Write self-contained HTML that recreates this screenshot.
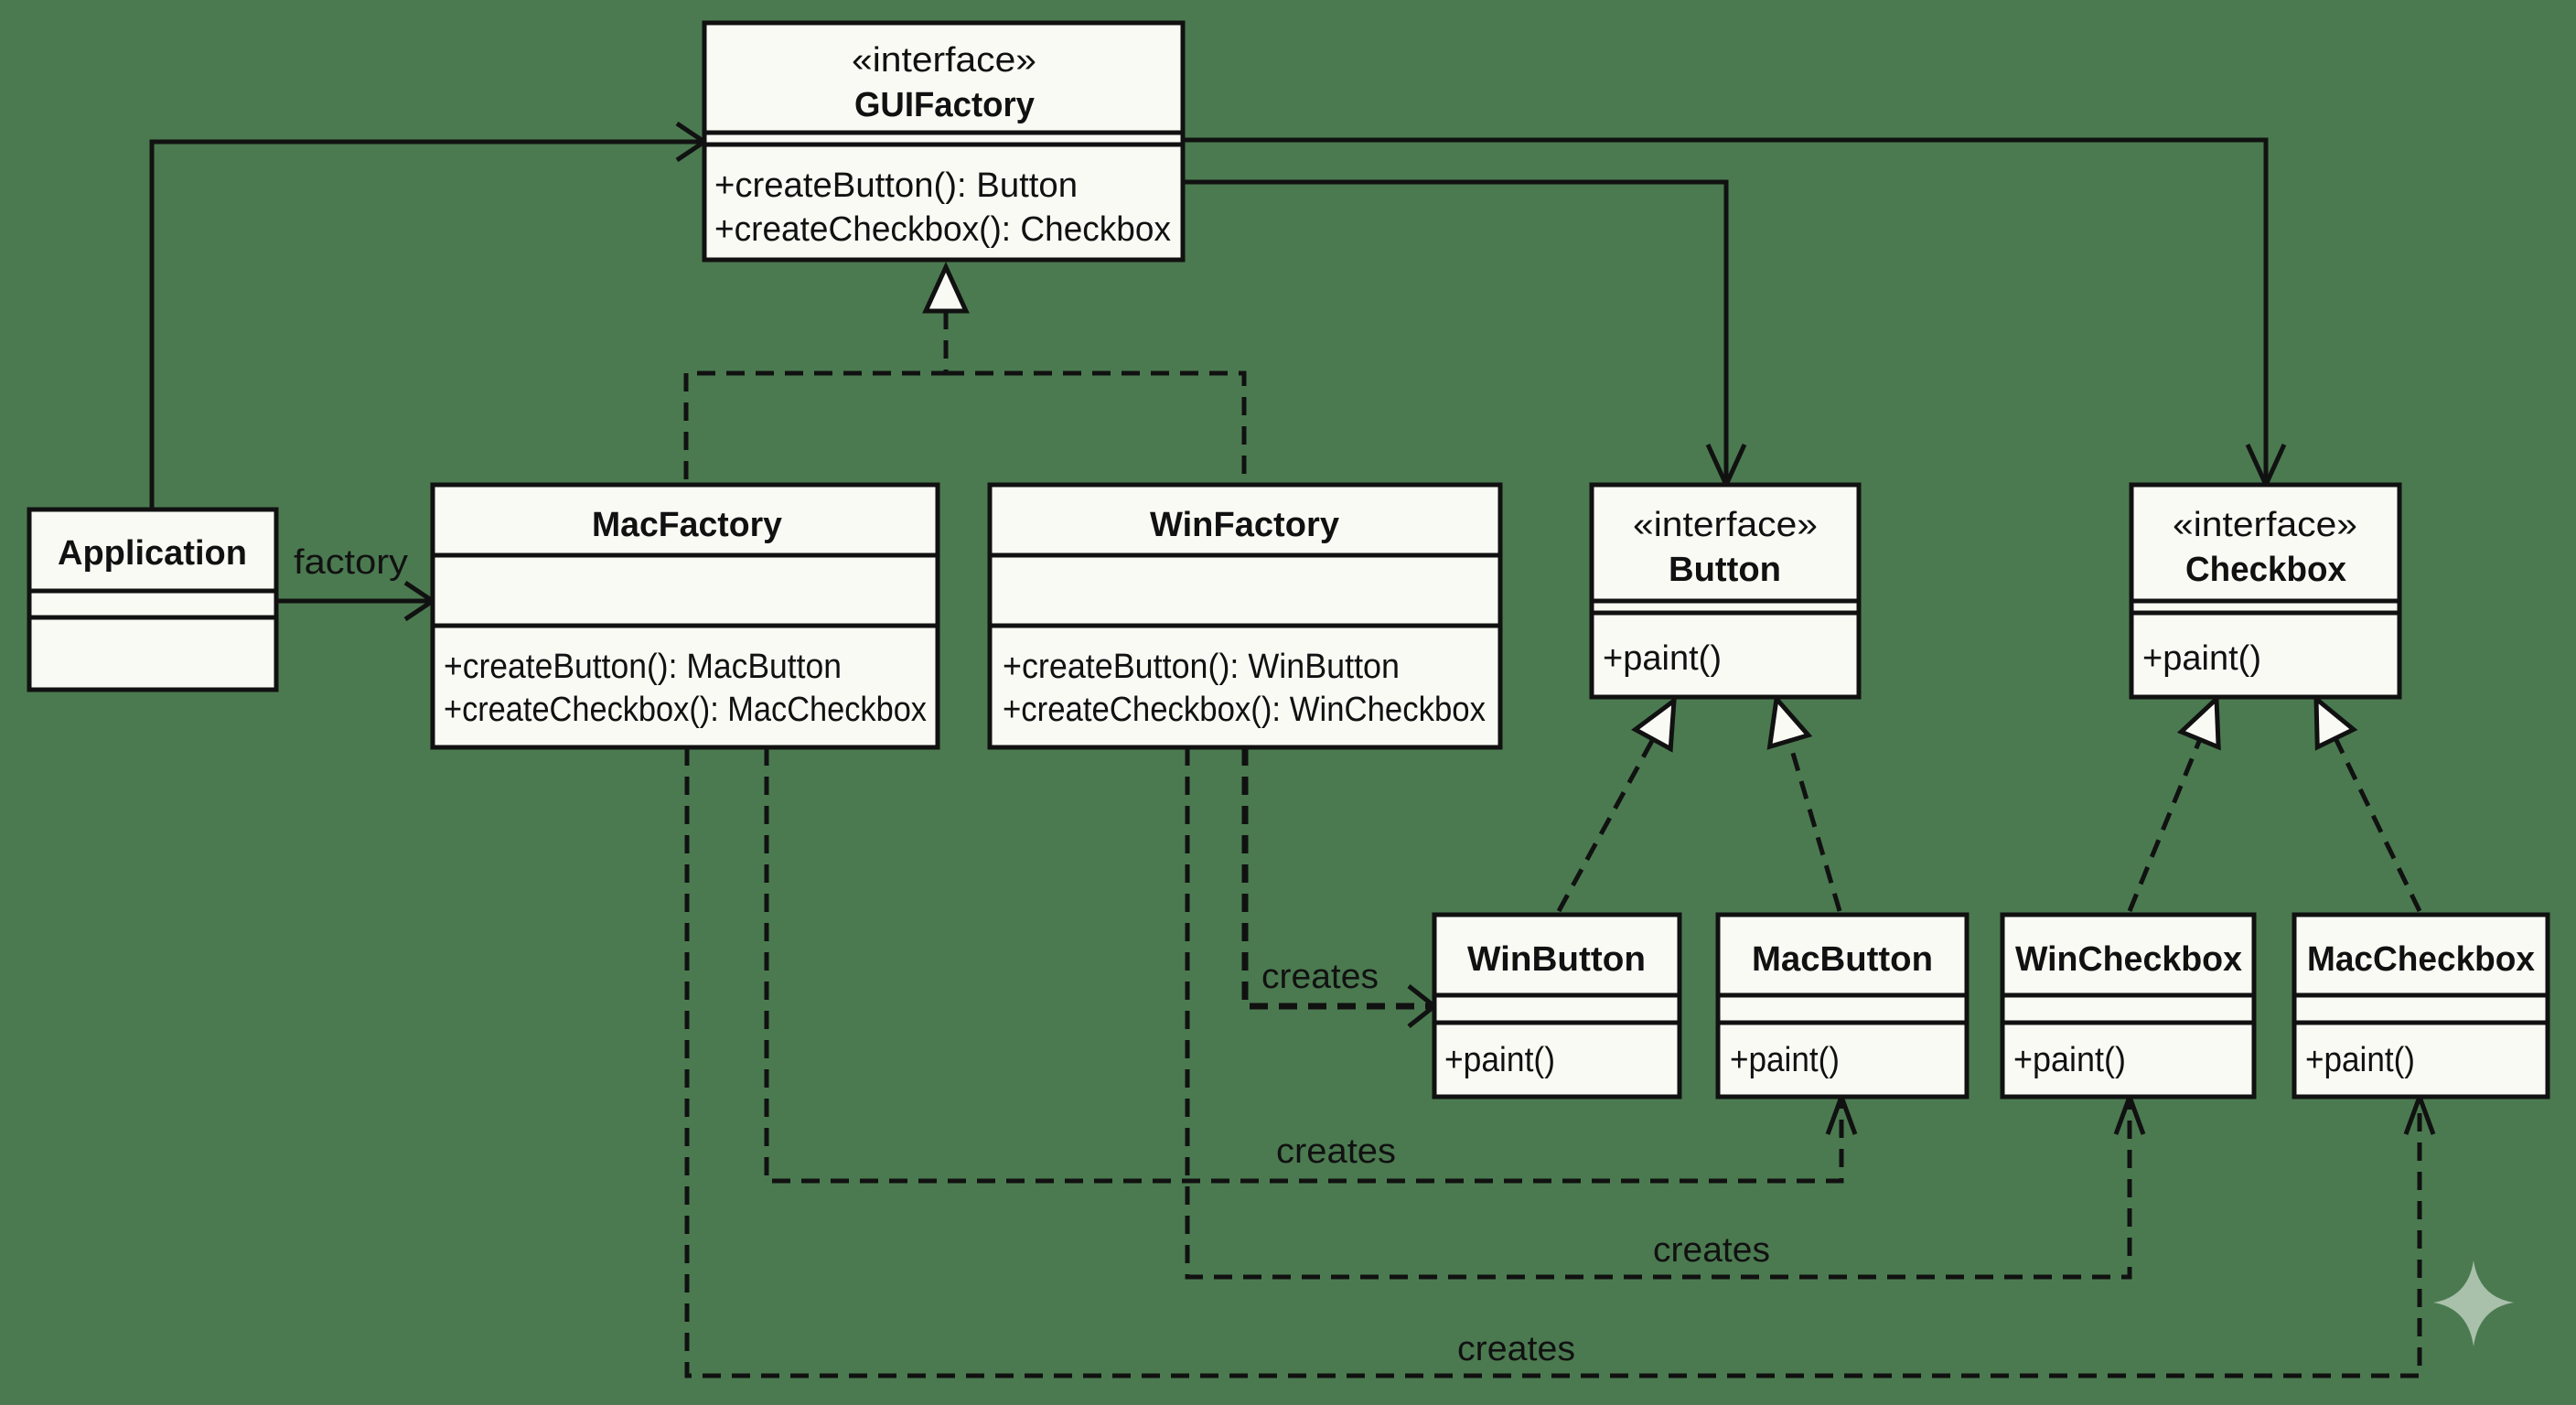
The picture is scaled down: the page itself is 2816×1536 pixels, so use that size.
<!DOCTYPE html>
<html><head><meta charset="utf-8"><style>
html,body{margin:0;padding:0;background:#4b7a50;}
svg{display:block}
text{font-family:"Liberation Sans",sans-serif;fill:#111;}
.b{font-weight:bold}
</style></head><body>
<svg width="2816" height="1536" viewBox="0 0 2816 1536" xmlns="http://www.w3.org/2000/svg">
<rect width="2816" height="1536" fill="#4b7a50"/>
<g fill="none" stroke="#111" stroke-width="5">
<path d="M166,557 V155 H770"/>
<path d="M740,135 L770,155 L740,175"/>
<path d="M302,657 H473"/>
<path d="M443,637 L473,657 L443,677"/>
<path d="M1293,199 H1887 V530"/>
<path d="M1867,486 L1887,530 L1907,486"/>
<path d="M1293,153 H2477 V530"/>
<path d="M2457,486 L2477,530 L2497,486"/>
</g>
<g fill="none" stroke="#111" stroke-width="5" stroke-dasharray="20 12">
<path d="M1034,340 V408 H750 V530"/>
<path d="M1034,408 H1360 V530"/>
<path d="M1704,996 L1807,808"/>
<path d="M2011,996 L1956,810"/>
<path d="M2328,996 L2405,808"/>
<path d="M2645,996 L2553,807"/>
<path d="M751,817 V1504 H2645 V1205"/>
<path d="M838,817 V1291 H2013 V1205"/>
<path d="M1298,817 V1396 H2328 V1205"/>
<path d="M1361,817 V1100 H1565" stroke-width="7"/>
</g>
<g fill="none" stroke="#111" stroke-width="5">
<path d="M1540,1078 L1568,1100 L1540,1122"/>
<path d="M1998,1240 L2013,1199 L2028,1240"/>
<path d="M2313,1240 L2328,1199 L2343,1240"/>
<path d="M2630,1240 L2645,1199 L2660,1240"/>
</g>
<g fill="#fafaf5" stroke="#111" stroke-width="5" stroke-linejoin="miter">
<polygon points="0,0 -22,48 22,48" transform="translate(1034,292)"/>
<polygon points="0,0 -22,48 22,48" transform="translate(1830,766) rotate(28.7)"/>
<polygon points="0,0 -22,48 22,48" transform="translate(1942,764) rotate(-16.6)"/>
<polygon points="0,0 -22,48 22,48" transform="translate(2423,764) rotate(22.3)"/>
<polygon points="0,0 -22,48 22,48" transform="translate(2532,764) rotate(-26)"/>
</g>
<g fill="#fafaf5" stroke="#111" stroke-width="5">
<rect x="770" y="25" width="523" height="259"/>
<rect x="32" y="557" width="270" height="197"/>
<rect x="473" y="530" width="552" height="287"/>
<rect x="1082" y="530" width="558" height="287"/>
<rect x="1740" y="530" width="292" height="232"/>
<rect x="2330" y="530" width="293" height="232"/>
<rect x="1568" y="1000" width="268" height="199"/>
<rect x="1878" y="1000" width="272" height="199"/>
<rect x="2189" y="1000" width="275" height="199"/>
<rect x="2508" y="1000" width="277" height="199"/>
</g>
<g stroke="#111" stroke-width="5">
<path d="M770,145 H1293 M770,158 H1293"/>
<path d="M32,646 H302 M32,675 H302"/>
<path d="M473,607 H1025 M473,684 H1025"/>
<path d="M1082,607 H1640 M1082,684 H1640"/>
<path d="M1740,657 H2032 M1740,670 H2032"/>
<path d="M2330,657 H2623 M2330,670 H2623"/>
<path d="M1568,1088 H1836 M1568,1118 H1836"/>
<path d="M1878,1088 H2150 M1878,1118 H2150"/>
<path d="M2189,1088 H2464 M2189,1118 H2464"/>
<path d="M2508,1088 H2785 M2508,1118 H2785"/>
</g>
<g font-size="38">
<text x="931" y="78" textLength="202" lengthAdjust="spacingAndGlyphs">«interface»</text>
<text class="b" x="934" y="127" textLength="197" lengthAdjust="spacingAndGlyphs">GUIFactory</text>
<text x="781" y="215" textLength="397" lengthAdjust="spacingAndGlyphs">+createButton(): Button</text>
<text x="781" y="263" textLength="499" lengthAdjust="spacingAndGlyphs">+createCheckbox(): Checkbox</text>
<text class="b" x="63" y="617" textLength="207" lengthAdjust="spacingAndGlyphs">Application</text>
<text x="321" y="627" textLength="125" lengthAdjust="spacingAndGlyphs">factory</text>
<text class="b" x="647" y="586" textLength="208" lengthAdjust="spacingAndGlyphs">MacFactory</text>
<text x="485" y="741" textLength="435" lengthAdjust="spacingAndGlyphs">+createButton(): MacButton</text>
<text x="485" y="788" textLength="528" lengthAdjust="spacingAndGlyphs">+createCheckbox(): MacCheckbox</text>
<text class="b" x="1257" y="586" textLength="207" lengthAdjust="spacingAndGlyphs">WinFactory</text>
<text x="1096" y="741" textLength="434" lengthAdjust="spacingAndGlyphs">+createButton(): WinButton</text>
<text x="1096" y="788" textLength="528" lengthAdjust="spacingAndGlyphs">+createCheckbox(): WinCheckbox</text>
<text x="1785" y="586" textLength="202" lengthAdjust="spacingAndGlyphs">«interface»</text>
<text class="b" x="1824" y="635" textLength="123" lengthAdjust="spacingAndGlyphs">Button</text>
<text x="1752" y="732" textLength="130" lengthAdjust="spacingAndGlyphs">+paint()</text>
<text x="2375" y="586" textLength="202" lengthAdjust="spacingAndGlyphs">«interface»</text>
<text class="b" x="2389" y="635" textLength="176" lengthAdjust="spacingAndGlyphs">Checkbox</text>
<text x="2342" y="732" textLength="130" lengthAdjust="spacingAndGlyphs">+paint()</text>
<text class="b" x="1604" y="1061" textLength="195" lengthAdjust="spacingAndGlyphs">WinButton</text>
<text x="1579" y="1171" textLength="121" lengthAdjust="spacingAndGlyphs">+paint()</text>
<text class="b" x="1915" y="1061" textLength="198" lengthAdjust="spacingAndGlyphs">MacButton</text>
<text x="1891" y="1171" textLength="120" lengthAdjust="spacingAndGlyphs">+paint()</text>
<text class="b" x="2203" y="1061" textLength="248" lengthAdjust="spacingAndGlyphs">WinCheckbox</text>
<text x="2201" y="1171" textLength="123" lengthAdjust="spacingAndGlyphs">+paint()</text>
<text class="b" x="2522" y="1061" textLength="249" lengthAdjust="spacingAndGlyphs">MacCheckbox</text>
<text x="2520" y="1171" textLength="120" lengthAdjust="spacingAndGlyphs">+paint()</text>
<text x="1379" y="1080" textLength="128" lengthAdjust="spacingAndGlyphs">creates</text>
<text x="1395" y="1271" textLength="131" lengthAdjust="spacingAndGlyphs">creates</text>
<text x="1807" y="1379" textLength="128" lengthAdjust="spacingAndGlyphs">creates</text>
<text x="1593" y="1487" textLength="129" lengthAdjust="spacingAndGlyphs">creates</text>
</g>
<path d="M2704,1378 Q2710,1418 2748,1424 Q2710,1430 2704,1472 Q2698,1430 2660,1424 Q2698,1418 2704,1378 Z" fill="#a9c0ab"/>
</svg>
</body></html>
